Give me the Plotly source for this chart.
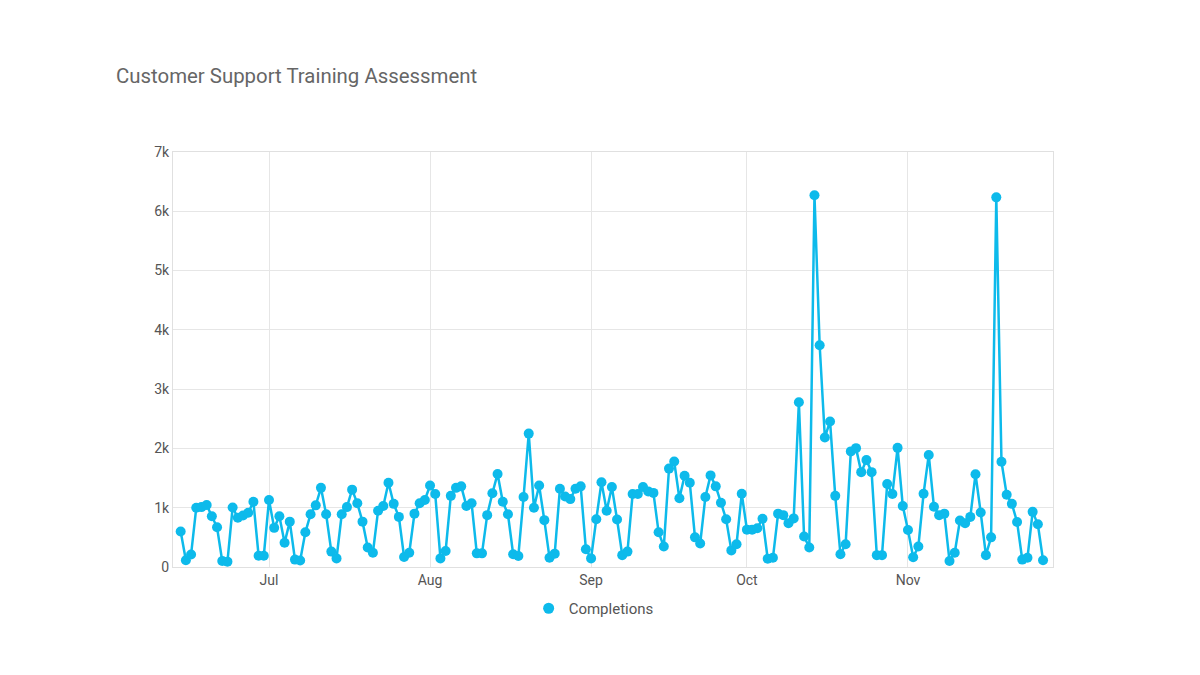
import pandas as pd
import plotly.graph_objects as go

# daily completions, one value per day starting 14 June
start_date = "2023-06-14"
completions = [
    600, 115, 210, 1000, 1010, 1045, 855, 670, 100, 90,
    1005, 830, 870, 915, 1100, 190, 190, 1130, 660, 855,
    410, 765, 125, 110, 585, 890, 1040, 1335, 890, 260,
    145, 890, 1010, 1305, 1075, 765, 330, 240, 950, 1030,
    1420, 1065, 845, 170, 240, 900, 1075, 1130, 1375, 1230,
    145, 270, 1200, 1335, 1360, 1030, 1075, 230, 230, 875,
    1245, 1570, 1100, 890, 215, 185, 1180, 2250, 1000, 1375,
    790, 155, 225, 1320, 1190, 1145, 1320, 1360, 300, 145,
    805, 1430, 950, 1350, 800, 200, 260, 1230, 1230, 1350,
    1275, 1250, 585, 345, 1660, 1780, 1160, 1540, 1420, 500,
    395, 1180, 1545, 1360, 1085, 805, 280, 385, 1235, 630,
    630, 655, 815, 140, 155, 900, 875, 740, 820, 2780,
    515, 330, 6270, 3740, 2185, 2455, 1200, 215, 385, 1950,
    2005, 1600, 1805, 1600, 200, 200, 1400, 1230, 2010, 1030,
    625, 165, 345, 1235, 1890, 1015, 875, 900, 100, 240,
    785, 740, 845, 1565, 920, 200, 500, 6235, 1775, 1220,
    1065, 760, 125, 155, 930, 720, 115,
]
dates = pd.date_range(start_date, periods=len(completions), freq="D")

y_ticks = [0, 1000, 2000, 3000, 4000, 5000, 6000, 7000]
y_labels = ["0", "1k", "2k", "3k", "4k", "5k", "6k", "7k"]
month_ticks = ["2023-07-01", "2023-08-01", "2023-09-01", "2023-10-01", "2023-11-01"]
month_labels = ["Jul", "Aug", "Sep", "Oct", "Nov"]

blue = "#0DBAEB"

fig = go.Figure()
fig.add_trace(go.Scatter(
    x=dates, y=completions, name="Completions",
    mode="lines+markers",
    line=dict(color=blue, width=2.5),
    marker=dict(color=blue, size=10),
    showlegend=False,
))
# legend entry only shows the dot
fig.add_trace(go.Scatter(
    x=[None], y=[None], name="Completions",
    mode="markers", marker=dict(color=blue, size=11),
))

fig.update_layout(
    width=1200, height=675,
    paper_bgcolor="white", plot_bgcolor="white",
    font=dict(family="Roboto", color="#555555", size=14),
    title=dict(text="Customer Support Training Assessment",
               x=108 / 1200, xanchor="left", xref="container",
               y=1 - 68 / 675, yanchor="middle", yref="container",
               font=dict(size=20.4, color="#666666")),
    margin=dict(l=165, r=155, t=144, b=116),
    showlegend=True,
    legend=dict(orientation="h", x=0.478, xanchor="center", y=-0.1, yanchor="middle",
                font=dict(size=15, color="#555555")),
)

fig.update_xaxes(
    range=["2023-06-12 12:30", "2023-11-28 22:00"],
    tickvals=month_ticks, ticktext=month_labels,
    showgrid=True, gridcolor="#e6e6e6", gridwidth=1,
    showline=True, linecolor="#e0e0e0", mirror=True,
    ticks="", zeroline=False,
)
fig.update_yaxes(
    range=[0, 7000],
    tickvals=y_ticks, ticktext=y_labels,
    showgrid=True, gridcolor="#e6e6e6", gridwidth=1,
    showline=True, linecolor="#e0e0e0", mirror=True,
    ticks="", zeroline=False,
)

fig.write_html("out.html")
